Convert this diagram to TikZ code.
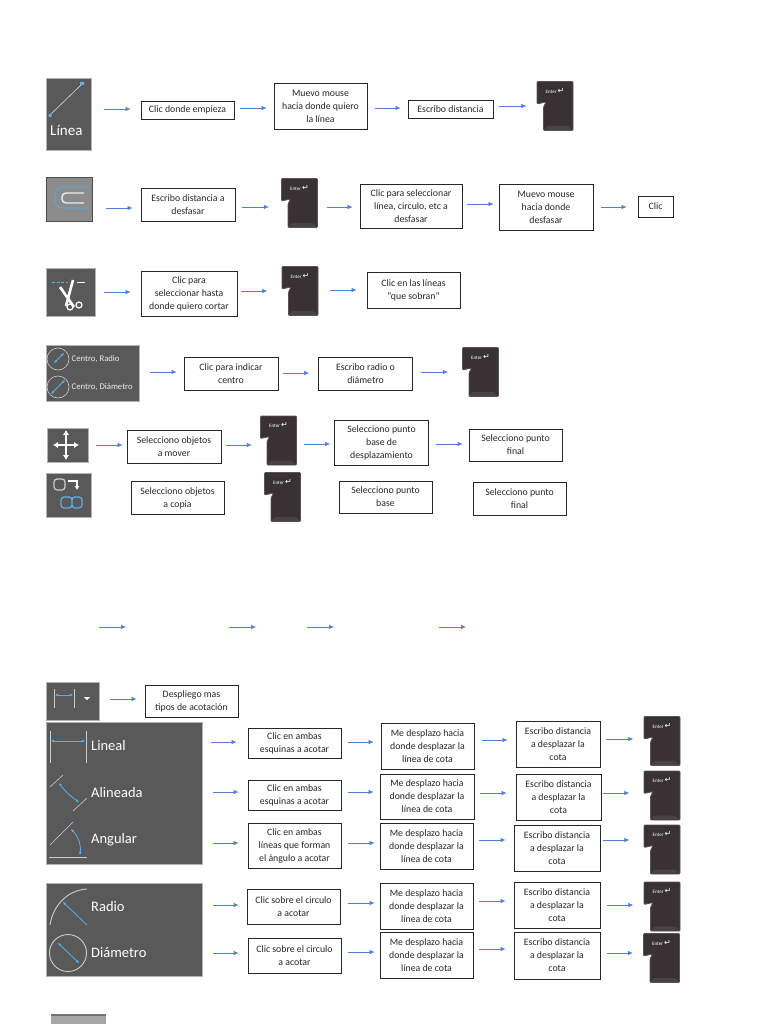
\documentclass[tikz,border=0pt]{standalone}
\usepackage{fontspec}
\setmainfont{Carlito}
\newfontfamily\symfont{DejaVu Sans}
\usepackage{tikz}
\usetikzlibrary{arrows.meta,positioning,calc}
\definecolor{icongray}{HTML}{595959}
\definecolor{iconblue}{HTML}{5BB0E8}
\definecolor{arrowblue}{HTML}{4F7FD6}
\definecolor{keydark}{HTML}{3A3135}
\definecolor{keyedge}{HTML}{5A5256}
\definecolor{keybevel}{HTML}{4A4246}

% Enter key: name, centre
\newcommand{\enterkey}[2]{%
  \node[keynode] (#1) at #2 {};
  \filldraw[fill=keydark, draw=keyedge, line width=0.8pt, rounded corners=1pt] ($(#1.center)+(-18,-24.5)$) -- ($(#1.center)+(18,-24.5)$) -- ($(#1.center)+(18,24.5)$) -- ($(#1.center)+(-11.5,24.5)$) -- ($(#1.center)+(-11.5,1)$) -- ($(#1.center)+(-9,-4)$) -- ($(#1.center)+(-18,-2)$) -- cycle;
  \fill[keybevel] ($(#1.center)+(-8,20)$) -- ($(#1.center)+(13,20)$) -- ($(#1.center)+(17.5,24)$) -- ($(#1.center)+(-11,24)$) -- cycle;
  \node[keytext] (#1t) at ($(#1.center)+(0,-15)$) {Enter {\symfont\fontsize{8}{8}\selectfont ↵}};
}

\begin{document}
\begin{tikzpicture}[
  x=1pt, y=-1pt,
  stepbox/.style={rectangle, draw=black!85, line width=0.9pt, minimum width=93pt, minimum height=32pt, align=center, inner sep=0pt, text=black!85, font=\fontsize{9.8}{13}\selectfont},
  tallbox/.style={stepbox, minimum height=46pt},
  keynode/.style={rectangle, minimum width=37pt, minimum height=50pt, inner sep=0pt},
  keytext/.style={text=white, inner sep=0pt, font=\fontsize{5}{5}\selectfont},
  icon/.style={rectangle, fill=icongray, draw=gray!60, line width=0.4pt, inner sep=0pt},
  icontext/.style={text=white, inner sep=0pt, anchor=west, font=\fontsize{14.5}{14.5}\selectfont},
  smalltext/.style={icontext, text=white!85!gray, font=\fontsize{8.7}{9}\selectfont},
  arr/.style={-{Latex[length=5pt,width=4.5pt]}, arrowblue, line width=0.6pt},
  thinline/.style={gray!40, line width=0.9pt},
  bluearr/.style={{Latex[length=3pt,width=3pt]}-{Latex[length=3pt,width=3pt]}, iconblue, line width=0.8pt},
  movearr/.style={{Latex[length=5pt,width=6.5pt]}-{Latex[length=5pt,width=6.5pt]}, white, line width=2pt}
]
\useasboundingbox (0,0) rectangle (768,1024);

% Linea
\node[icon, minimum width=45pt, minimum height=72pt] (linea) at (68.5,114) {};
\draw[gray!30, line width=0.6pt] (50,115) -- (82,84);
\fill[iconblue] (48.5,114) rectangle (51.5,117) (80,82) rectangle (84,85);
\node[icontext, font=\fontsize{15}{15}\selectfont] (linealabel) at (50,130) {Línea};
\node[stepbox, minimum height=18pt] (empieza) at (187.5,110) {Clic donde empieza};
\node[tallbox] (muevo) at (320.5,106) {Muevo mouse\\hacia donde quiero\\la línea};
\node[stepbox, minimum width=85pt, minimum height=18pt] (distancia) at (450.5,109) {Escribo distancia};
\enterkey{keya}{(555,106)}
\draw[arr] ([xshift=13pt]linea.east |- 0,109) -- ([xshift=-10pt]empieza.west |- 0,109);
\draw[arr] ([xshift=6pt]empieza.east |- 0,108) -- ([xshift=-7pt]muevo.west |- 0,108);
\draw[arr] ([xshift=8pt]muevo.east |- 0,108) -- ([xshift=-7pt]distancia.west |- 0,108);
\draw[arr] ([xshift=6pt]distancia.east |- 0,106) -- ([xshift=-10pt]keya.west |- 0,106);

% Desfase
\node[icon, minimum width=46pt, minimum height=44pt, fill=gray!100!black!90, draw=black!70, line width=1.6pt] (offset) at (69.5,199.5) {};
\draw[iconblue!70!gray, line width=1.4pt, rounded corners=7pt] (90,187) -- (55,187) -- (55,208) -- (90,208);
\draw[white!85!gray, line width=1.4pt, rounded corners=4pt] (84,193) -- (62,193) -- (62,203) -- (84,203);
\node[stepbox, minimum width=94pt, minimum height=33pt] (distdesf) at (188,204.5) {Escribo distancia a\\desfasar};
\enterkey{keyb}{(299.5,203)}
\node[stepbox, minimum width=102pt, minimum height=44pt] (selec) at (411,206) {Clic para seleccionar\\línea, circulo, etc a\\desfasar};
\node[tallbox, minimum width=94pt] (muevod) at (546,207) {Muevo mouse\\hacia donde\\desfasar};
\node[stepbox, minimum width=35pt, minimum height=21pt] (clic) at (655.5,206.5) {Clic};
\draw[arr] ([xshift=13pt]offset.east |- 0,208) -- ([xshift=-8pt]distdesf.west |- 0,208);
\draw[arr] ([xshift=7pt]distdesf.east |- 0,207) -- ([xshift=-12pt]keyb.west |- 0,207);
\draw[arr] ([xshift=9pt]keyb.east |- 0,207) -- ([xshift=-7pt]selec.west |- 0,207);
\draw[arr] ([xshift=5pt]selec.east |- 0,204) -- ([xshift=-5pt]muevod.west |- 0,204);
\draw[arr] ([xshift=8pt]muevod.east |- 0,207) -- ([xshift=-11pt]clic.west |- 0,207);

% Recortar
\node[icon, minimum width=49pt, minimum height=48pt] (trim) at (70.5,292) {};
\draw[iconblue, line width=1pt, dash pattern=on 3pt off 1.5pt] (52,282) -- (68,282);
\draw[white, line width=1pt] (77,282) -- (85,282);
\draw[white, line width=2.6pt] (73,280) -- (66,306) (60,287) -- (74,307);
\draw[white, line width=1.2pt] (70,307) circle (3) (79,305) circle (3);
\node[stepbox, minimum width=96pt, minimum height=45pt] (hasta) at (189,293.5) {Clic para\\seleccionar hasta\\donde quiero cortar};
\enterkey{keyc}{(300,291)}
\node[stepbox, minimum width=93pt, minimum height=36pt] (sobran) at (413.5,290) {Clic en las líneas\\“que sobran”};
\draw[arr] ([xshift=9pt]trim.east |- 0,292) -- ([xshift=-10pt]hasta.west |- 0,292);
\draw[arr] ([xshift=4pt]hasta.east |- 0,291) -- ([xshift=-14pt]keyc.west |- 0,291);
\draw[arr] ([xshift=11pt]keyc.east |- 0,290) -- ([xshift=-10pt]sobran.west |- 0,290);

% Circulo
\node[icon, minimum width=93pt, minimum height=56pt] (circulo) at (92.5,373) {};
\draw[thinline, line width=0.6pt] (58,359) circle (11) (58,387) circle (11);
\draw[bluearr] (54,363) -- (64,353);
\draw[bluearr] (51,394) -- (65,380);
\node[smalltext] (ctrradio) at (71.5,359) {Centro, Radio};
\node[smalltext] (ctrdiam) at (71.5,387) {Centro, Diámetro};
\node[stepbox, minimum width=94pt, minimum height=33pt] (centro) at (231,373.5) {Clic para indicar\\centro};
\node[stepbox, minimum width=94pt, minimum height=33pt] (radiod) at (365.5,373.5) {Escribo radio o\\diámetro};
\enterkey{keyd}{(480.5,372)}
\draw[arr] ([xshift=11pt]circulo.east |- 0,372) -- ([xshift=-7pt]centro.west |- 0,372);
\draw[arr] ([xshift=5pt]centro.east |- 0,373) -- ([xshift=-9pt]radiod.west |- 0,373);
\draw[arr] ([xshift=8pt]radiod.east |- 0,372) -- ([xshift=-14pt]keyd.west |- 0,372);

% Mover
\node[icon, minimum width=41pt, minimum height=34pt] (mover) at (67.5,445) {};
\draw[movearr] (53,445) -- (79,445);
\draw[movearr] (66,430) -- (66,460);
\node[stepbox, minimum width=94pt, minimum height=33pt] (objmover) at (174,446.5) {Selecciono objetos\\a mover};
\enterkey{keye}{(278.5,440.5)}
\node[stepbox, minimum width=94pt, minimum height=45pt] (basedesp) at (381.5,442.5) {Selecciono punto\\base de\\desplazamiento};
\node[stepbox] (finalm) at (515.5,445) {Selecciono punto\\final};
\draw[arr] ([xshift=8pt]mover.east |- 0,445) -- ([xshift=-4pt]objmover.west |- 0,445);
\draw[arr] ([xshift=5pt]objmover.east |- 0,445) -- ([xshift=-8pt]keye.west |- 0,445);
\draw[arr] ([xshift=7pt]keye.east |- 0,444) -- ([xshift=-4pt]basedesp.west |- 0,444);
\draw[arr] ([xshift=7pt]basedesp.east |- 0,444) -- ([xshift=-6pt]finalm.west |- 0,444);

% Copiar
\node[icon, minimum width=45pt, minimum height=44pt] (copiar) at (68.5,495) {};
\draw[thinline, line width=1.2pt, rounded corners=3pt] (54,479) rectangle (65,490);
\draw[white, line width=1.2pt, -{Latex[length=4pt,width=5pt]}] (68,481) -- (77,481) -- (77,490);
\draw[iconblue, line width=1.2pt, rounded corners=3pt] (61,497) rectangle (72,508) (72,497) rectangle (82,508);
\node[stepbox, minimum height=33pt] (objcopia) at (177.5,498) {Selecciono objetos\\a copia};
\enterkey{keyf}{(282.5,497)}
\node[stepbox] (basec) at (385.5,497) {Selecciono punto\\base};
\node[stepbox, minimum height=33pt] (finalc) at (519.5,498.5) {Selecciono punto\\final};

% Flechas sueltas
\coordinate (sa) at (99,627);
\coordinate (sb) at (126,627);
\coordinate (sc) at (229,627);
\coordinate (sd) at (256,627);
\coordinate (se) at (307,627);
\coordinate (sf) at (334,627);
\coordinate (sg) at (439,627);
\coordinate (sh) at (466,627);
\draw[arr] (sa) -- (sb);
\draw[arr] (sc) -- (sd);
\draw[arr] (se) -- (sf);
\draw[arr] (sg) -- (sh);

% Acotacion
\node[icon, minimum width=53pt, minimum height=38pt] (cota) at (72.5,701) {};
\draw[thinline] (54,689) -- (54,708) (74,689) -- (74,708);
\draw[bluearr, line width=0.6pt] (55,695) -- (73,695);
\fill[white] (84,697) -- (90,697) -- (87,700) -- cycle;
\node[stepbox] (despliego) at (191.5,701) {Despliego mas\\tipos de acotación};
\draw[arr] ([xshift=11pt]cota.east |- 0,699) -- ([xshift=-8pt]despliego.west |- 0,699);

% Panel lineal, alineada, angular
\node[icon, minimum width=156pt, minimum height=142pt] (panela) at (124,793) {};
\draw[thinline] (50,731) -- (50,763) (86,731) -- (86,763);
\draw[bluearr] (51,741) -- (85,741);
\node[icontext] (lineal) at (91,746) {Lineal};
\draw[thinline, line width=0.6pt] (50,787) -- (63,775) (73,811) -- (87,798);
\draw[bluearr] (59,783) to[bend right=10] (79,802);
\node[icontext] (alineada) at (91,793) {Alineada};
\draw[thinline, line width=0.6pt] (50,845) -- (73,822);
\draw[thinline] (49,857) -- (87,857);
\draw[bluearr] (71,829) to[bend left=25] (80,855);
\node[icontext] (angular) at (91,840) {Angular};

\node[stepbox, minimum height=30pt] (ambasa) at (294.5,743) {Clic en ambas\\esquinas a acotar};
\node[tallbox] (despa) at (427.5,746) {Me desplazo hacia\\donde desplazar la\\línea de cota};
\node[tallbox, minimum width=84pt] (escra) at (558,744) {Escribo distancia\\a desplazar la\\cota};
\enterkey{keyg}{(662,741)}
\draw[arr] ([xshift=9pt]panela.east |- 0,742) -- ([xshift=-11pt]ambasa.west |- 0,742);
\draw[arr] ([xshift=7pt]ambasa.east |- 0,742) -- ([xshift=-7pt]despa.west |- 0,742);
\draw[arr] ([xshift=8pt]despa.east |- 0,740) -- ([xshift=-8pt]escra.west |- 0,740);
\draw[arr] ([xshift=6pt]escra.east |- 0,739) -- ([xshift=-10pt]keyg.west |- 0,739);

\node[stepbox, minimum height=30pt] (ambasb) at (294.5,795.5) {Clic en ambas\\esquinas a acotar};
\node[tallbox, minimum width=94pt, minimum height=45pt] (despb) at (427,796.5) {Me desplazo hacia\\donde desplazar la\\línea de cota};
\node[tallbox, minimum width=85pt] (escrb) at (558.5,797) {Escribo distancia\\a desplazar la\\cota};
\enterkey{keyh}{(662,795.5)}
\draw[arr] ([xshift=11pt]panela.east |- 0,792) -- ([xshift=-9pt]ambasb.west |- 0,792);
\draw[arr] ([xshift=7pt]ambasb.east |- 0,792) -- ([xshift=-6pt]despb.west |- 0,792);
\draw[arr] ([xshift=6pt]despb.east |- 0,793) -- ([xshift=-9pt]escrb.west |- 0,793);
\draw[arr] ([xshift=2pt]escrb.east |- 0,793) -- ([xshift=-14pt]keyh.west |- 0,793);

\node[stepbox, minimum height=45pt] (ambasc) at (294.5,845.5) {Clic en ambas\\líneas que forman\\el ángulo a acotar};
\node[tallbox] (despc) at (426.5,846) {Me desplazo hacia\\donde desplazar la\\línea de cota};
\node[tallbox, minimum width=86pt] (escrc) at (557,848) {Escribo distancia\\a desplazar la\\cota};
\enterkey{keyi}{(662,849.5)}
\draw[arr] ([xshift=11pt]panela.east |- 0,843) -- ([xshift=-9pt]ambasc.west |- 0,843);
\draw[arr] ([xshift=7pt]ambasc.east |- 0,843) -- ([xshift=-5pt]despc.west |- 0,843);
\draw[arr] ([xshift=6pt]despc.east |- 0,840) -- ([xshift=-8pt]escrc.west |- 0,840);
\draw[arr] ([xshift=3pt]escrc.east |- 0,840) -- ([xshift=-14pt]keyi.west |- 0,840);

% Panel radio, diametro
\node[icon, minimum width=156pt, minimum height=93pt] (panelb) at (124,929.5) {};
\draw[thinline] (50,925) .. controls (53,905) and (68,890) .. (87,889);
\draw[iconblue, line width=0.8pt, {Latex[length=3pt,width=3pt]}-] (63,902) -- (87,925);
\node[icontext] (radio) at (91,907) {Radio};
\draw[thinline] (68,953) circle (18.5);
\draw[bluearr] (58,943) -- (79,963);
\node[icontext] (diametro) at (91,953) {Diámetro};

\node[stepbox, minimum height=35pt] (clica) at (293.5,906.5) {Clic sobre el circulo\\a acotar};
\node[tallbox] (despd) at (426.5,906.5) {Me desplazo hacia\\donde desplazar la\\línea de cota};
\node[tallbox, minimum width=86pt] (escrd) at (557,905) {Escribo distancia\\a desplazar la\\cota};
\enterkey{keyj}{(662,906.5)}
\draw[arr] ([xshift=11pt]panelb.east |- 0,905) -- ([xshift=-8pt]clica.west |- 0,905);
\draw[arr] ([xshift=8pt]clica.east |- 0,903) -- ([xshift=-5pt]despd.west |- 0,903);
\draw[arr] ([xshift=6pt]despd.east |- 0,901) -- ([xshift=-8pt]escrd.west |- 0,901);
\draw[arr] ([xshift=7pt]escrd.east |- 0,905) -- ([xshift=-10pt]keyj.west |- 0,905);

\node[stepbox, minimum height=35pt] (clicb) at (294.5,955.5) {Clic sobre el circulo\\a acotar};
\node[tallbox] (despe) at (426.5,955) {Me desplazo hacia\\donde desplazar la\\línea de cota};
\node[tallbox, minimum width=86pt, minimum height=47pt] (escre) at (557,955.5) {Escribo distancia\\a desplazar la\\cota};
\enterkey{keyk}{(661.5,958)}
\draw[arr] ([xshift=11pt]panelb.east |- 0,953) -- ([xshift=-9pt]clicb.west |- 0,953);
\draw[arr] ([xshift=7pt]clicb.east |- 0,952) -- ([xshift=-5pt]despe.west |- 0,952);
\draw[arr] ([xshift=6pt]despe.east |- 0,949) -- ([xshift=-8pt]escre.west |- 0,949);
\draw[arr] ([xshift=7pt]escre.east |- 0,953) -- ([xshift=-10pt]keyk.west |- 0,953);

% Franja inferior
\fill[black!35] (51,1014) rectangle (106,1024);
\fill[black!55] (51,1014) rectangle (106,1015.5);

\end{tikzpicture}
\end{document}
